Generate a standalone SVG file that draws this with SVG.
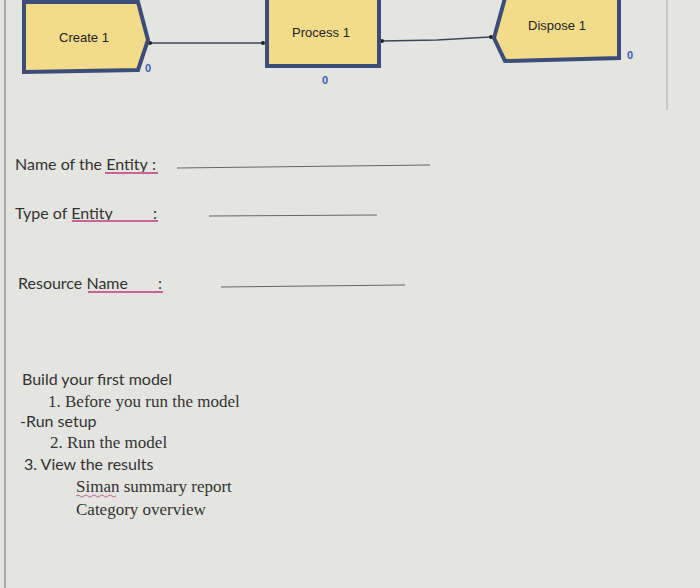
<svg xmlns="http://www.w3.org/2000/svg" width="700" height="588" viewBox="0 0 700 588">
<style>
.mod{fill:#f2dc8a;stroke:#3d4d7a;stroke-width:4}
.lbl{font-family:Arial,"Liberation Sans",sans-serif;font-size:13px;fill:#222;text-anchor:middle}
.z{font-family:"Liberation Sans",sans-serif;font-size:11px;fill:#3b5bb0;font-weight:bold}
.t{font-family:Lato,"Liberation Sans",sans-serif;font-size:16px;fill:#333}
.s{font-family:"Liberation Serif",serif;font-size:17px;fill:#333}
.ul{stroke:#c9649a;stroke-width:2;fill:none}
.bl{stroke:#666;stroke-width:1}
.c{stroke:#3a4660;stroke-width:1.5;fill:none}
</style>
<rect width="700" height="588" fill="#e4e5e0"/>
<line x1="5" y1="0" x2="5" y2="588" stroke="#999" stroke-width="1.5"/>
<line x1="667" y1="0" x2="667" y2="110" stroke="#aaa" stroke-width="1"/>
<g id="connectors">
<path class="c" d="M150 43 L263 43"/>
<path class="c" d="M382 41 L437 40 L490 37"/>
<circle cx="150" cy="43" r="2" fill="#222"/><circle cx="263" cy="43" r="2" fill="#222"/>
<circle cx="382" cy="41" r="2" fill="#222"/><circle cx="491" cy="37" r="2" fill="#222"/>
</g>
<g id="create1">
<path class="mod" d="M24 2 L138 2 L148 40 L138 70 L24 72 Z"/>
<text class="lbl" x="84" y="42">Create 1</text>
<text class="z" x="145" y="72">0</text>
</g>
<g id="process1">
<rect class="mod" x="267" y="-2" width="112" height="68"/>
<text class="lbl" x="321" y="37">Process 1</text>
<text class="z" x="322" y="84">0</text>
</g>
<g id="dispose1">
<path class="mod" d="M505 -2 L619 -2 L619 58 L505 61 L494 38 Z"/>
<text class="lbl" x="557" y="30">Dispose 1</text>
<text class="z" x="627" y="59">0</text>
</g>
<text class="t" x="15" y="170">Name of the Entity</text>
<text class="t" x="152" y="170">:</text>
<path class="ul" d="M105 173 H158"/>
<line class="bl" x1="177" y1="168" x2="430" y2="165"/>
<text class="t" x="15" y="219">Type of Entity</text>
<text class="t" x="153" y="219">:</text>
<path class="ul" d="M72 221 H158"/>
<line class="bl" x1="209" y1="216" x2="377" y2="215"/>
<text class="t" x="18" y="289">Resource Name</text>
<text class="t" x="158" y="289">:</text>
<path class="ul" d="M88 292 H163"/>
<line class="bl" x1="221" y1="287" x2="405" y2="285"/>
<text class="t" x="22" y="385">Build your first model</text>
<text class="s" x="48" y="407">1.  Before you run the model</text>
<text class="t" x="20" y="427">-Run setup</text>
<text class="s" x="50" y="448">2.  Run the model</text>
<text class="t" x="24" y="470">3. View the results</text>
<text class="s" x="76" y="492">Siman summary report</text>
<path d="M76 496 q2 -2 4 0 t4 0 t4 0 t4 0 t4 0 t4 0 t4 0 t4 0 t4 0 t4 0" stroke="#c9649a" fill="none" stroke-width="1"/>
<text class="s" x="76" y="515">Category overview</text>
</svg>
